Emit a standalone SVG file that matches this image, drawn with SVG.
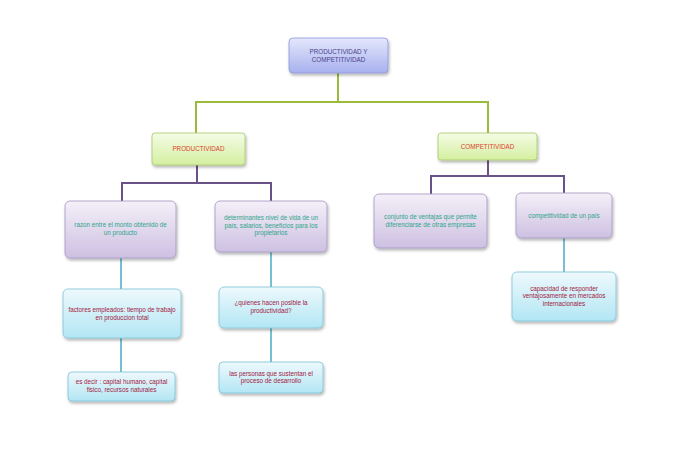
<svg xmlns="http://www.w3.org/2000/svg" width="678" height="453" viewBox="0 0 678 453">
<defs>
<linearGradient id="gBlue" x1="0" y1="0" x2="0" y2="1"><stop offset="0" stop-color="#e4e7fc"/><stop offset="1" stop-color="#a7b1ee"/></linearGradient>
<linearGradient id="gGreen" x1="0" y1="0" x2="0" y2="1"><stop offset="0" stop-color="#f4fce6"/><stop offset="1" stop-color="#d4efa0"/></linearGradient>
<linearGradient id="gLav" x1="0" y1="0" x2="0" y2="1"><stop offset="0" stop-color="#f4f0f8"/><stop offset="1" stop-color="#cdc0e2"/></linearGradient>
<linearGradient id="gCyan" x1="0" y1="0" x2="0" y2="1"><stop offset="0" stop-color="#eef9fc"/><stop offset="1" stop-color="#b2e6f4"/></linearGradient>
<filter id="sh" x="-10%" y="-10%" width="130%" height="140%"><feDropShadow dx="1" dy="2" stdDeviation="1.5" flood-color="#000" flood-opacity="0.3"/></filter>
</defs>
<style>
text{font-family:"Liberation Sans",Arial,sans-serif;font-size:6.3px;text-anchor:middle}
.n{filter:url(#sh);stroke-width:0.8}
.b{fill:url(#gBlue);stroke:#8e98da}
.g{fill:url(#gGreen);stroke:#a8c86a}
.l{fill:url(#gLav);stroke:#a596c0}
.c{fill:url(#gCyan);stroke:#7cc3d8}
.tb{fill:#4a3f8c}
.tr{fill:#e2402c}
.tt{fill:#2ea58c}
.tm{fill:#a3203e}
.k1{stroke:#9bbb3a;stroke-width:2;fill:none}
.k2{stroke:#6a5288;stroke-width:2;fill:none}
.k3{stroke:#4bacc6;stroke-width:1.5;fill:none}
</style>
<rect width="678" height="453" fill="#ffffff"/>
<g id="connectors">
<path class="k1" d="M338 73V102M196 102H488M196 101V133M488 101V133"/>
<path class="k2" d="M197 165V183M121 183H271M122 182V201M271 182V201"/>
<path class="k2" d="M488 160V176M431 176H564M431 175V194M564 175V193"/>
<path class="k3" d="M121 258V289M271 252V287M564 238V272M121 338V372M271 328V362"/>
</g>
<g id="n0"><rect class="n b" x="289" y="38" width="99" height="35" rx="4"/><text class="tb" x="338.5" y="54">PRODUCTIVIDAD Y</text><text class="tb" x="338.5" y="62">COMPETITIVIDAD</text></g>
<g id="n1"><rect class="n g" x="152" y="133" width="93" height="32" rx="3"/><text class="tr" x="198.5" y="151">PRODUCTIVIDAD</text></g>
<g id="n2"><rect class="n g" x="438" y="133" width="99" height="27" rx="3"/><text class="tr" x="487.5" y="148.5">COMPETITIVIDAD</text></g>
<g id="n3"><rect class="n l" x="65" y="201" width="111" height="57" rx="5"/><text class="tt" x="120.5" y="227">razon entre el monto obtenido de</text><text class="tt" x="120.5" y="234.5">un producto</text></g>
<g id="n4"><rect class="n l" x="215" y="201" width="112" height="51" rx="5"/><text class="tt" x="271" y="220">determinantes nivel de vida de un</text><text class="tt" x="271" y="227.5">país, salarios, beneficios para los</text><text class="tt" x="271" y="235">propietarios</text></g>
<g id="n5"><rect class="n l" x="374" y="194" width="113" height="54" rx="5"/><text class="tt" x="430.5" y="219">conjunto de ventajas que permite</text><text class="tt" x="430.5" y="226.5">diferenciarse de otras empresas</text></g>
<g id="n6"><rect class="n l" x="516" y="193" width="96" height="45" rx="5"/><text class="tt" x="564" y="217.5">competitividad de un país</text></g>
<g id="n7"><rect class="n c" x="63" y="289" width="118" height="49" rx="5"/><text class="tm" x="122" y="312">factores empleados: tiempo de trabajo</text><text class="tm" x="122" y="319.5">en produccion total</text></g>
<g id="n8"><rect class="n c" x="219" y="287" width="104" height="41" rx="5"/><text class="tm" x="271" y="305">¿quienes hacen posible la</text><text class="tm" x="271" y="312.5">productividad?</text></g>
<g id="n9"><rect class="n c" x="512" y="272" width="104" height="49" rx="5"/><text class="tm" x="564" y="290.5">capacidad de responder</text><text class="tm" x="564" y="298">ventajosamente en mercados</text><text class="tm" x="564" y="305.5">internacionales</text></g>
<g id="n10"><rect class="n c" x="68" y="372" width="107" height="29" rx="4"/><text class="tm" x="121.5" y="384">es decir : capital humano, capital</text><text class="tm" x="121.5" y="391.5">fisico, recursos naturales</text></g>
<g id="n11"><rect class="n c" x="219" y="362" width="104" height="31" rx="4"/><text class="tm" x="271" y="375.5">las personas que sustentan el</text><text class="tm" x="271" y="383">proceso de desarrollo</text></g>
</svg>
